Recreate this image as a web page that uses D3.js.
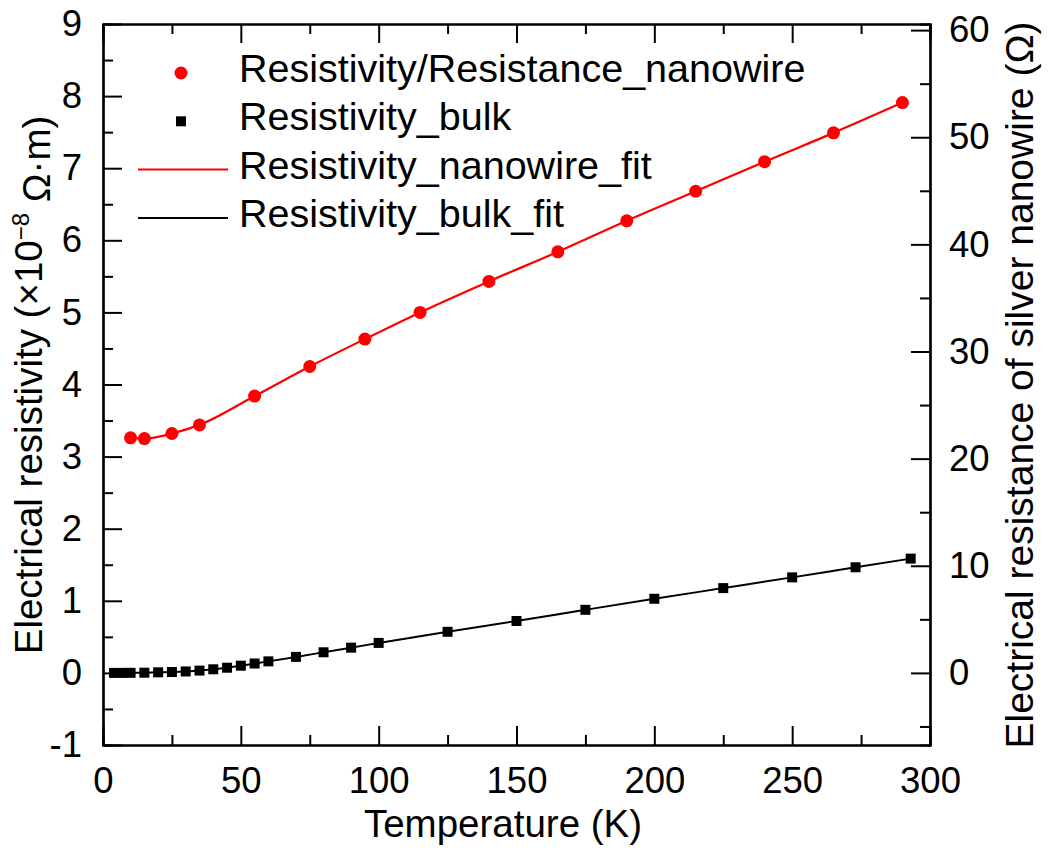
<!DOCTYPE html>
<html lang="en">
<head>
<meta charset="UTF-8">
<script src="https://cdnjs.cloudflare.com/ajax/libs/d3/7.8.4/d3.min.js"></script>
<title>Resistivity</title>
<style>
  body { margin: 0; background: #fff; }
  text { font-family: "Liberation Sans", Arial, sans-serif; fill: #000; }
</style>
</head>
<body>
<script>
// nanowire resistivity (x1e-8 Ohm.m)
const wireT = [10, 15, 25, 35, 55, 75, 95, 115, 140, 165, 190, 215, 240, 265, 290]
const wireRho = [3.26, 3.25, 3.32, 3.44, 3.84, 4.25, 4.63, 5.00, 5.43, 5.84, 6.27, 6.68, 7.09, 7.49, 7.91]

// bulk silver resistivity (x1e-8 Ohm.m)
const bulkT = [4, 7, 10, 15, 20, 25, 30, 35, 40, 45, 50, 55, 60, 70, 80, 90, 100, 125, 150, 175, 200, 225, 250, 273, 293]
const bulkRho = [0, 0, 0.001, 0.003, 0.008, 0.012, 0.02, 0.032, 0.05, 0.072, 0.1, 0.13, 0.16, 0.222, 0.286, 0.35, 0.416, 0.57, 0.72, 0.875, 1.028, 1.176, 1.325, 1.465, 1.585]

const xTicks = [0, 50, 100, 150, 200, 250, 300]
const xMinor = [25, 75, 125, 175, 225, 275]
const yTicks = [-1, 0, 1, 2, 3, 4, 5, 6, 7, 8, 9]
const yMinor = [-0.5, 0.5, 1.5, 2.5, 3.5, 4.5, 5.5, 6.5, 7.5, 8.5]
const rTicks = [0, 10, 20, 30, 40, 50, 60]
const rMinor = [-5, 5, 15, 25, 35, 45, 55]

const legendLabels = ["Resistivity/Resistance_nanowire", "Resistivity_bulk", "Resistivity_nanowire_fit", "Resistivity_bulk_fit"]

// resistance per unit resistivity for the right axis
const K = 6.73

const W = 1050, H = 849
const pLeft = 103, pRight = 930, pTop = 24, pBottom = 745

let svg = d3.select("body").append("svg")
  .attr("width", W)
  .attr("height", H)

let x = d3.scaleLinear().domain([0, 300]).range([pLeft, pRight])
let y = d3.scaleLinear().domain([-1, 9]).range([pBottom, pTop])
let yR = d3.scaleLinear().domain([-1 * K, 9 * K]).range([pBottom, pTop])

const major = 19, minor = 10, fs = 36.5

function styleAxis(g) {
  g.selectAll("path.domain").attr("stroke-width", 2.2)
  g.selectAll("line").attr("stroke-width", 2)
  g.selectAll("text").style("font-size", fs + "px").attr("font-family", null)
}

// minor ticks first
svg.append("g").attr("transform", `translate(0,${pBottom})`)
  .call(d3.axisBottom(x).tickValues(xMinor).tickSize(-minor).tickFormat(""))
  .call(styleAxis)
svg.append("g").attr("transform", `translate(0,${pTop})`)
  .call(d3.axisTop(x).tickValues(xMinor).tickSize(-minor).tickFormat(""))
  .call(styleAxis)
svg.append("g").attr("transform", `translate(${pLeft},0)`)
  .call(d3.axisLeft(y).tickValues(yMinor).tickSize(-minor).tickFormat(""))
  .call(styleAxis)
svg.append("g").attr("transform", `translate(${pRight},0)`)
  .call(d3.axisRight(yR).tickValues(rMinor).tickSize(-minor).tickFormat(""))
  .call(styleAxis)

// major ticks + labels
svg.append("g").attr("transform", `translate(0,${pBottom})`)
  .call(d3.axisBottom(x).tickValues(xTicks).tickSizeInner(-major).tickSizeOuter(0).tickPadding(22).tickFormat(d3.format("d")))
  .call(styleAxis)
svg.append("g").attr("transform", `translate(0,${pTop})`)
  .call(d3.axisTop(x).tickValues(xTicks).tickSizeInner(-major).tickSizeOuter(0).tickFormat(""))
  .call(styleAxis)
svg.append("g").attr("transform", `translate(${pLeft},0)`)
  .call(d3.axisLeft(y).tickValues(yTicks).tickSizeInner(-major).tickSizeOuter(0).tickPadding(21).tickFormat(d => d < 0 ? "-" + Math.abs(d) : d))
  .call(styleAxis)
svg.append("g").attr("transform", `translate(${pRight},0)`)
  .call(d3.axisRight(yR).tickValues(rTicks).tickSizeInner(-major).tickSizeOuter(0).tickPadding(19).tickFormat(d3.format("d")))
  .call(styleAxis)

// lines
let wirePts = wireT.map((t, i) => [t, wireRho[i]])
let bulkPts = bulkT.map((t, i) => [t, bulkRho[i]])

let line = d3.line()
  .x(d => x(d[0]))
  .y(d => y(d[1]))
  .curve(d3.curveMonotoneX)

svg.append("path")
  .datum(bulkPts)
  .attr("d", line)
  .attr("fill", "none")
  .attr("stroke", "#000")
  .attr("stroke-width", 2)

svg.append("path")
  .datum(wirePts)
  .attr("d", line)
  .attr("fill", "none")
  .attr("stroke", "#ff0000")
  .attr("stroke-width", 2.2)

// markers
const sq = 10
svg.selectAll("rect.bulk").data(bulkPts).enter().append("rect")
  .attr("class", "bulk")
  .attr("x", d => x(d[0]) - sq / 2)
  .attr("y", d => y(d[1]) - sq / 2)
  .attr("width", sq)
  .attr("height", sq)
  .attr("fill", "#000")

svg.selectAll("circle.wire").data(wirePts).enter().append("circle")
  .attr("class", "wire")
  .attr("cx", d => x(d[0]))
  .attr("cy", d => y(d[1]))
  .attr("r", 6.5)
  .attr("fill", "#ff0000")

// legend
const legX = 239, legY0 = 82, legDy = 48.3
let leg = svg.append("g")
leg.selectAll("text").data(legendLabels).enter().append("text")
  .attr("x", legX)
  .attr("y", (d, i) => legY0 + i * legDy)
  .style("font-size", "39.5px")
  .text(d => d)

leg.append("circle").attr("cx", 181).attr("cy", legY0 - 9).attr("r", 6.5).attr("fill", "#ff0000")
leg.append("rect").attr("x", 181 - sq / 2).attr("y", legY0 + legDy - 9 - sq / 2)
  .attr("width", sq).attr("height", sq).attr("fill", "#000")
leg.append("line").attr("x1", 138).attr("x2", 228)
  .attr("y1", legY0 + 2 * legDy - 9).attr("y2", legY0 + 2 * legDy - 9)
  .attr("stroke", "#ff0000").attr("stroke-width", 2)
leg.append("line").attr("x1", 138).attr("x2", 228)
  .attr("y1", legY0 + 3 * legDy - 9).attr("y2", legY0 + 3 * legDy - 9)
  .attr("stroke", "#000").attr("stroke-width", 2)

// axis titles
svg.append("text")
  .attr("x", 503)
  .attr("y", 837)
  .attr("text-anchor", "middle")
  .style("font-size", "38.5px")
  .text("Temperature (K)")

let yt = svg.append("text")
  .attr("transform", "translate(42,385) rotate(-90)")
  .attr("text-anchor", "middle")
  .style("font-size", "38.5px")
yt.append("tspan").text("Electrical resistivity (\u00d710")
yt.append("tspan").attr("dy", "-0.55em").style("font-size", "24px").text("\u22128")
yt.append("tspan").attr("dy", "0.55em").text(" \u03a9\u00b7m)")

svg.append("text")
  .attr("transform", "translate(1033,385) rotate(-90)")
  .attr("text-anchor", "middle")
  .style("font-size", "39px")
  .text("Electrical resistance of silver nanowire (\u03a9)")
</script>
</body>
</html>
